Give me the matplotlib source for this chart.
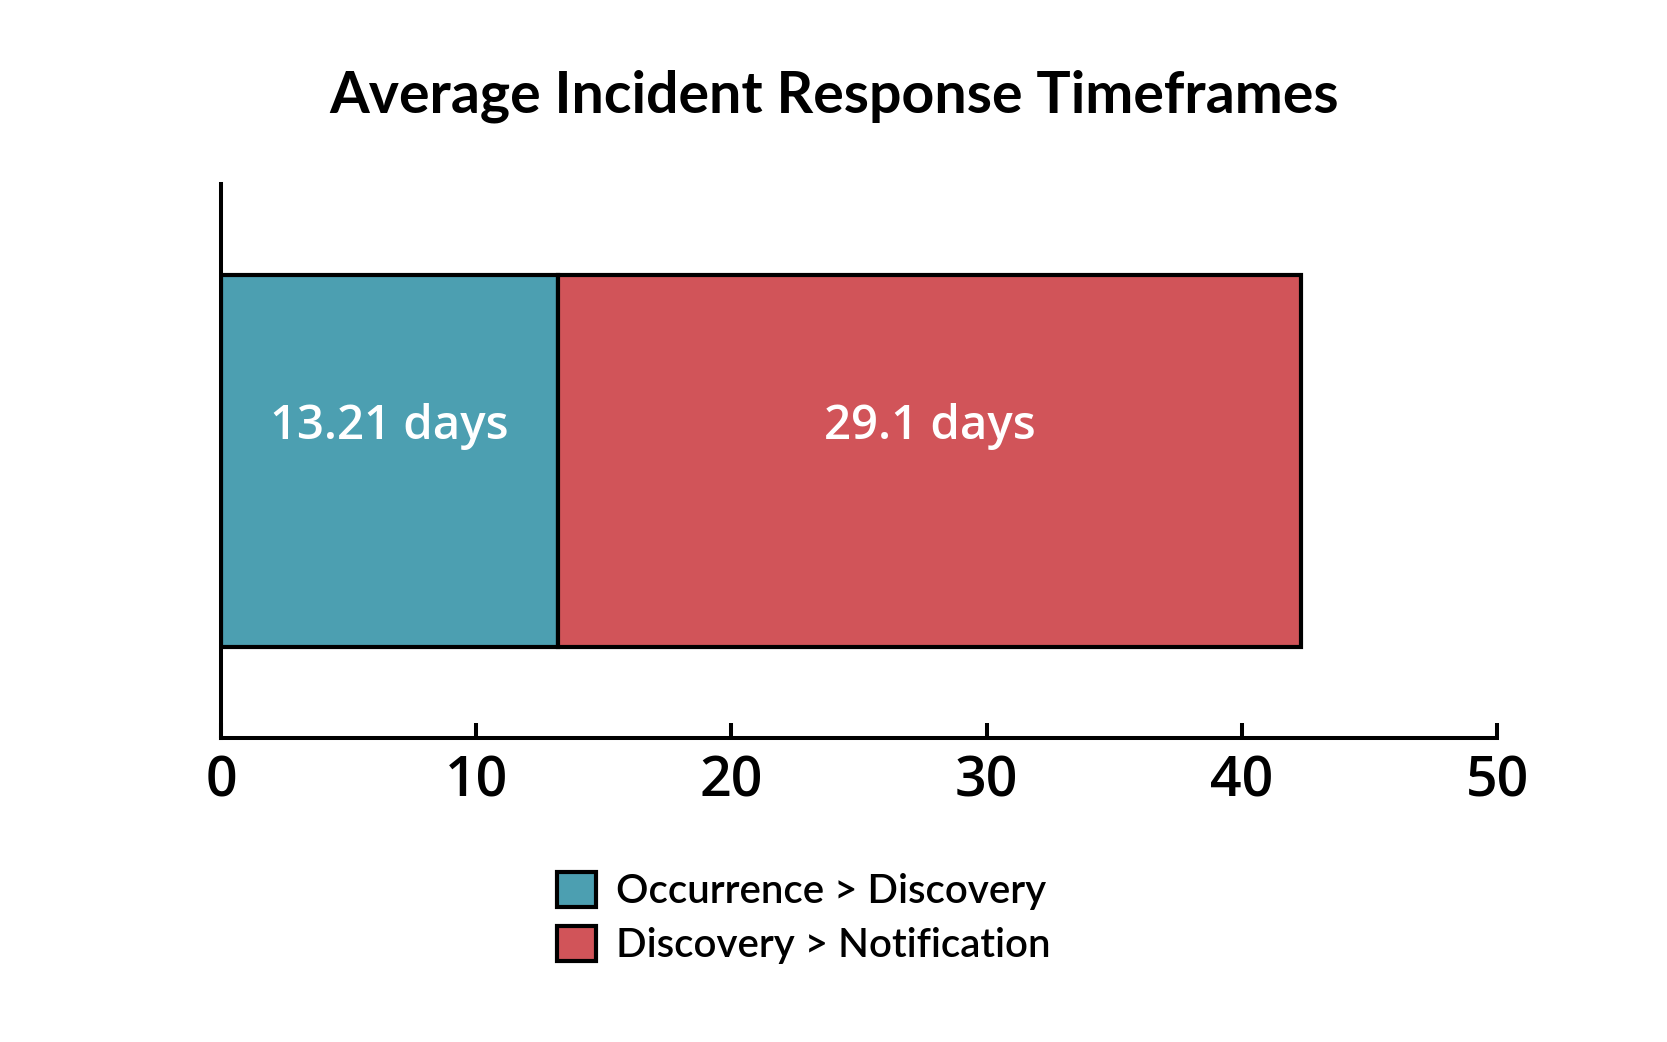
import matplotlib
matplotlib.use("Agg")
import matplotlib.pyplot as plt
from matplotlib.patches import Patch

# Data
categories = ["Occurrence > Discovery", "Discovery > Notification"]
values = [13.21, 29.1]
labels = ["13.21 days", "29.1 days"]
colors = ["#4C9FB1", "#D15459"]
xticks = [0, 10, 20, 30, 40, 50]
title = "Average Incident Response Timeframes"

plt.rcParams['font.family'] = ['Lato', 'DejaVu Sans']

fig = plt.figure(figsize=(16.67, 10.42), dpi=100)
ax = fig.add_axes([221/1667, 1 - 738/1042, (1497 - 221)/1667, (738 - 184)/1042])

left = 0
bar_h = 0.673
for v, c, lab in zip(values, colors, labels):
    ax.barh(0, v, left=left, height=bar_h, color=c, edgecolor='black', linewidth=3, zorder=2)
    ax.text(left + v / 2, 0.039, lab, ha='center', va='baseline', color='white',
            fontsize=34, fontweight='semibold', family=['Open Sans', 'DejaVu Sans'], zorder=3)
    left += v

ax.set_xlim(0, 50)
ax.set_ylim(-0.5, 0.5)
ax.set_xticks(xticks)
ax.set_xticklabels([str(t) for t in xticks], family=['Open Sans', 'DejaVu Sans'],
                   fontsize=40, fontweight='semibold')
ax.set_yticks([])
ax.tick_params(axis='x', direction='in', length=11, width=2.9, pad=12)
for s in ['top', 'right']:
    ax.spines[s].set_visible(False)
for s in ['left', 'bottom']:
    ax.spines[s].set_linewidth(2.9)

fig.text(834/1667, 1 - 96/1042, title, ha='center', va='center', fontsize=41.2, fontweight='bold')

handles = [Patch(facecolor=c, edgecolor='black', linewidth=3) for c in colors]
fig.legend(handles, categories, loc='upper left', bbox_to_anchor=(557/1667, 1 - 872/1042),
           frameon=False, prop={'weight': 'semibold', 'size': 29},
           handlelength=0.97, handleheight=0.97,
           handletextpad=0.5, labelspacing=0.38, borderpad=0, borderaxespad=0)

fig.savefig("out.png", dpi=100, facecolor='white')
